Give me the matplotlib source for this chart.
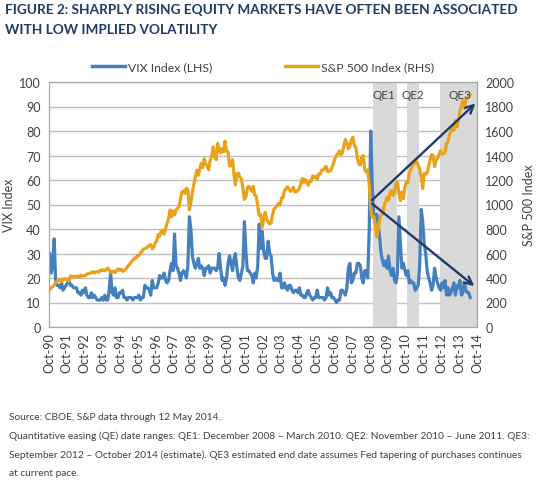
import pandas as pd
import matplotlib.pyplot as plt
import matplotlib.dates as mdates
from matplotlib.lines import Line2D

# monthly values, Oct 1990 - May 2014
sp500 = [
    304, 322, 330,
    344, 367, 375, 375, 390, 371, 388, 395, 388, 392, 375, 417,
    409, 413, 404, 415, 415, 408, 424, 414, 418, 419, 431, 436,
    439, 443, 452, 440, 450, 451, 448, 464, 459, 468, 462, 466,
    482, 467, 446, 451, 457, 444, 458, 475, 463, 472, 454, 459,
    471, 487, 501, 515, 533, 545, 562, 562, 584, 582, 605, 616,
    636, 640, 646, 654, 669, 671, 640, 652, 687, 705, 757, 741,
    786, 791, 757, 801, 848, 885, 954, 899, 947, 915, 955, 970,
    980, 1049, 1102, 1112, 1091, 1134, 1121, 957, 1017, 1099, 1164, 1229,
    1280, 1238, 1286, 1335, 1302, 1373, 1329, 1320, 1283, 1363, 1389, 1469,
    1394, 1366, 1499, 1452, 1421, 1455, 1431, 1518, 1437, 1429, 1315, 1320,
    1366, 1240, 1160, 1249, 1256, 1224, 1211, 1134, 1041, 1060, 1139, 1148,
    1130, 1107, 1147, 1077, 1067, 990, 912, 916, 815, 886, 936, 880,
    856, 841, 848, 917, 964, 975, 990, 1008, 996, 1051, 1058, 1112,
    1131, 1145, 1126, 1107, 1121, 1141, 1102, 1104, 1115, 1130, 1174, 1212,
    1181, 1204, 1181, 1157, 1192, 1191, 1234, 1220, 1229, 1207, 1249, 1248,
    1280, 1281, 1295, 1311, 1270, 1270, 1277, 1304, 1336, 1378, 1401, 1418,
    1438, 1407, 1421, 1482, 1531, 1503, 1455, 1474, 1527, 1549, 1481, 1468,
    1379, 1331, 1323, 1386, 1400, 1280, 1267, 1283, 1166, 969, 896, 903,
    826, 735, 798, 873, 919, 919, 987, 1021, 1057, 1036, 1096, 1115,
    1074, 1104, 1169, 1187, 1089, 1031, 1102, 1049, 1141, 1183, 1181, 1258,
    1286, 1327, 1326, 1364, 1345, 1321, 1292, 1219, 1131, 1253, 1247, 1258,
    1312, 1366, 1408, 1398, 1310, 1362, 1379, 1407, 1441, 1412, 1416, 1426,
    1498, 1515, 1569, 1598, 1631, 1606, 1686, 1633, 1682, 1757, 1806, 1848,
    1783, 1859, 1872, 1884, 1897,
]
vix = [
    30, 22, 25,
    36, 18, 17, 17, 16, 18, 15, 16, 17, 18, 19, 17,
    17, 16, 16, 16, 14, 14, 13, 15, 14, 16, 13, 12,
    12, 14, 12, 13, 12, 11, 11, 11, 12, 11, 13, 11,
    11, 15, 22, 14, 13, 16, 12, 12, 14, 14, 15, 12,
    12, 11, 12, 12, 12, 11, 12, 12, 12, 13, 11, 12,
    12, 17, 16, 16, 15, 13, 19, 16, 16, 16, 18, 21,
    20, 20, 22, 19, 18, 19, 23, 26, 23, 38, 25, 24,
    22, 19, 22, 23, 22, 20, 25, 45, 40, 29, 26, 24,
    26, 28, 24, 25, 24, 21, 24, 24, 25, 22, 24, 24,
    24, 23, 24, 30, 24, 19, 20, 17, 20, 26, 29, 26,
    23, 28, 30, 24, 20, 19, 22, 25, 43, 31, 23, 23,
    22, 21, 18, 22, 20, 25, 42, 32, 39, 31, 28, 28,
    35, 30, 29, 22, 19, 20, 19, 19, 22, 16, 16, 18,
    16, 15, 17, 17, 15, 14, 15, 15, 14, 16, 13, 13,
    12, 12, 14, 15, 13, 12, 11, 12, 12, 15, 12, 12,
    12, 12, 11, 12, 16, 13, 14, 12, 12, 11, 10, 11,
    11, 15, 15, 14, 13, 16, 24, 26, 18, 19, 22, 22,
    26, 26, 25, 20, 18, 23, 23, 20, 40, 80, 58, 45,
    45, 46, 42, 37, 30, 27, 25, 27, 24, 29, 23, 21,
    24, 19, 18, 22, 45, 34, 24, 26, 23, 21, 23, 18,
    19, 18, 18, 15, 16, 17, 25, 48, 43, 34, 30, 23,
    20, 18, 15, 17, 24, 20, 18, 16, 15, 18, 16, 19,
    13, 16, 13, 14, 16, 18, 13, 17, 16, 19, 13, 14,
    18, 15, 14, 14, 12,
]
dates = pd.date_range('1990-10-01', periods=len(sp500), freq='MS') + pd.Timedelta(days=14)

# QE periods
qe_names = ['QE1', 'QE2', 'QE3']
qe_start = ['2008-12-01', '2010-11-01', '2012-09-01']
qe_end = ['2010-03-31', '2011-06-30', '2014-10-31']
qe_label_x = ['2009-07-15', '2011-02-20', '2013-10-20']

vix_color = '#4480C0'
sp_color = '#E9A31B'
navy = '#1F3A68'
txt = '#404040'

plt.rcParams['font.family'] = ['Lato', 'DejaVu Sans']

fig = plt.figure(figsize=(5.41, 4.85), dpi=100)
ax = fig.add_axes([49/541, 1-328/485, 428/541, 245/485])
ax2 = ax.twinx()

ax.set_ylim(0, 100)
ax2.set_ylim(0, 2000)
x0, x1 = pd.Timestamp('1990-10-01'), pd.Timestamp('2014-10-01')
ax.set_xlim(x0, x1)

ax.set_yticks(range(0, 101, 10))
ax2.set_yticks(range(0, 2001, 200))
ax.grid(axis='y', color='#BFBFBF', lw=1, zorder=0)
ax.set_axisbelow(True)

# shading and VIX on the lower axes, S&P and arrows on the twin above
for s, e in zip(qe_start, qe_end):
    ax.axvspan(pd.Timestamp(s), pd.Timestamp(e), color='#D9D9D9', lw=0, zorder=1)
ax.plot(dates, vix, color=vix_color, lw=2.3, zorder=3)
ax2.plot(dates, sp500, color=sp_color, lw=2.3, zorder=2)

for n, xl in zip(qe_names, qe_label_x):
    ax2.text(pd.Timestamp(xl), 1900, n, ha='center', va='center', fontsize=8.5, color=txt, zorder=5)

# trend arrows (drawn in S&P units = VIX * 20)
arrow_start = (pd.Timestamp('2008-10-01'), 1020)
for end in [(pd.Timestamp('2014-10-10'), 1840), (pd.Timestamp('2014-09-20'), 320)]:
    ax2.annotate('', xy=end, xytext=arrow_start,
                 arrowprops=dict(arrowstyle='->', color=navy, lw=1.7, mutation_scale=14),
                 annotation_clip=False, zorder=6)

ax.xaxis.set_major_locator(mdates.MonthLocator(bymonth=10))
ax.xaxis.set_major_formatter(mdates.DateFormatter('%b-%y'))
for a in (ax, ax2):
    a.tick_params(length=0, labelsize=9, colors=txt)
    for sp in a.spines.values():
        sp.set_color('#A6A6A6')
ax.tick_params(axis='x', rotation=90, labelsize=9, pad=4)
ax.tick_params(axis='y', pad=6)
ax2.tick_params(axis='y', pad=6)

ax.set_ylabel('VIX Index', fontsize=9, color=txt, labelpad=3)
ax2.set_ylabel('S&P 500 Index', fontsize=9, color=txt, labelpad=6)

handles = [Line2D([], [], color=vix_color, lw=2.5), Line2D([], [], color=sp_color, lw=2.5)]
fig.legend(handles, ['VIX Index (LHS)', 'S&P 500 Index (RHS)'], loc='center',
           bbox_to_anchor=(263/541, 1-68/485), ncol=2, frameon=False, fontsize=8.8,
           handlelength=2.7, handletextpad=0.2, columnspacing=6, labelcolor=txt)

fig.text(5/541, 1-10/485, 'FIGURE 2: SHARPLY RISING EQUITY MARKETS HAVE OFTEN BEEN ASSOCIATED',
         fontsize=9.8, fontweight='bold', color=navy, va='center')
fig.text(5/541, 1-30/485, 'WITH LOW IMPLIED VOLATILITY',
         fontsize=9.8, fontweight='bold', color=navy, va='center')

notes = [
    'Source: CBOE, S&P data through 12 May 2014.',
    'Quantitative easing (QE) date ranges: QE1: December 2008 \u2013 March 2010. QE2: November 2010 \u2013 June 2011. QE3:',
    'September 2012 \u2013 October 2014 (estimate). QE3 estimated end date assumes Fed tapering of purchases continues',
    'at current pace.',
]
for i, line in enumerate(notes):
    fig.text(9/541, 1-(418 + i*18.5)/485, line, fontsize=7.3, color=txt, va='center')

fig.savefig('out.png', dpi=100)
